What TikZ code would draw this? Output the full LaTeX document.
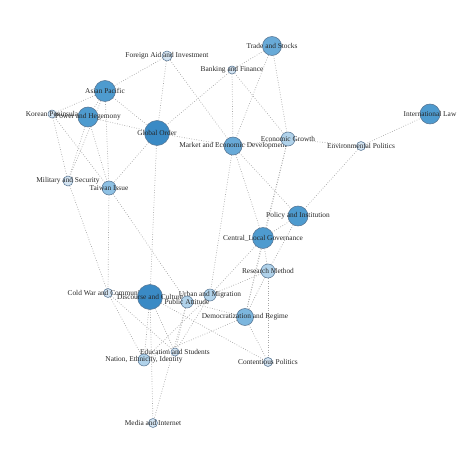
\documentclass[tikz,border=0pt]{standalone}
\usepackage{fontspec}
\setmainfont{Liberation Serif}
\usetikzlibrary{backgrounds}

\definecolor{cDark}{RGB}{58,138,197}
\definecolor{cMid}{RGB}{78,155,207}
\definecolor{cMidL}{RGB}{104,170,216}
\definecolor{cDem}{RGB}{124,182,222}
\definecolor{cTai}{RGB}{142,193,228}
\definecolor{cLight}{RGB}{176,210,234}
\definecolor{cPale}{RGB}{212,228,242}
\definecolor{cRim}{RGB}{85,115,145}

\begin{document}
\begin{tikzpicture}[
        x=0.2mm, y=-0.2mm,
        nd/.style={circle, draw=cRim, line width=0.3pt, inner sep=0pt, minimum size=#1*0.2mm},
        lbl/.style={font=\fontsize{4.2}{5}\selectfont, inner sep=0pt, text=black!85},
        link/.style={densely dotted, line width=0.4pt, gray!70}
    ]
        \useasboundingbox (0,0) rectangle (474,473);

        % --- upper part ---
        \node[nd=10, fill=cPale, label={[lbl]center:Foreign Aid and Investment}] (fa) at (167,56) {};
        \node[nd=19, fill=cMidL, label={[lbl]center:Trade and Stocks}] (ts) at (272,46) {};
        \node[nd=8, fill=cPale, label={[lbl]center:Banking and Finance}] (bf) at (232,70) {};
        \node[nd=21, fill=cMid, label={[lbl]center:Asian Pacific}] (ap) at (105,91) {};
        \node[nd=8, fill=cPale, label={[lbl]center:Korean Peninsula}] (kp) at (52,114) {};
        \node[nd=20, fill=cMid, label={[lbl]center:Power and Hegemony}] (ph) at (88,117) {};
        \node[nd=25, fill=cDark, label={[lbl]center:Global Order}] (go) at (157,133) {};
        \node[nd=18, fill=cMidL, label={[lbl]center:Market and Economic Development}] (med) at (233,146) {};
        \node[nd=14, fill=cLight, label={[lbl]center:Economic Growth}] (eg) at (288,139) {};
        \node[nd=9, fill=cPale, label={[lbl]center:Environmental Politics}] (ep) at (361,146) {};
        \node[nd=20, fill=cMid, label={[lbl]center:International Law}] (il) at (430,114) {};
        \node[nd=10, fill=cPale, label={[lbl]center:Military and Security}] (ms) at (68,181) {};
        \node[nd=14, fill=cTai, label={[lbl]center:Taiwan Issue}] (ti) at (109,188) {};

        % --- middle part ---
        \node[nd=20, fill=cMid, label={[lbl]center:Policy and Institution}] (pi) at (298,216) {};
        \node[nd=21, fill=cMid, label={[lbl]center:Central\_Local Governance}] (clg) at (263,238) {};
        \node[nd=14, fill=cLight, label={[lbl]center:Research Method}] (rm) at (268,271) {};
        \node[nd=9, fill=cPale, label={[lbl]center:Cold War and Communism}] (cw) at (108,293) {};
        \node[nd=25, fill=cDark, label={[lbl]center:Discourse and Culture}] (dc) at (150,297) {};
        \node[nd=12, fill=cLight, label={[lbl]center:Urban and Migration}] (um) at (210,295) {};
        \node[nd=12, fill=cLight, label={[lbl]center:Public Attitude}] (pa) at (187,302) {};
        \node[nd=17, fill=cDem, label={[lbl]center:Democratization and Regime}] (dr) at (245,317) {};

        % --- lower part ---
        \node[nd=8, fill=cPale, label={[lbl]center:Education and Students}] (es) at (175,352) {};
        \node[nd=12, fill=cLight, label={[lbl]center:{Nation, Ethnicity, Identity}}] (nei) at (144,360) {};
        \node[nd=9, fill=cPale, label={[lbl]center:Contentious Politics}] (cp) at (268,362) {};
        \node[nd=9, fill=cPale, label={[lbl]center:Media and Internet}] (mi) at (153,423) {};

        % links behind the nodes
        \begin{pgfonlayer}{background}
            \foreach \a/\b in {fa/ap, fa/go, fa/med, ts/bf, ts/med, ts/eg, bf/go, bf/med, bf/eg,
                ap/kp, ap/ph, ap/go, ap/ti, ap/ms, kp/ph, kp/ms, kp/ti, ph/go, ph/ti, ph/ms,
                go/med, go/ti, go/dc, ti/cw, ti/pa, ms/cw, med/eg, med/pi, med/clg, med/um,
                eg/ep, eg/clg, eg/dr, ep/il, ep/pi, pi/clg, pi/rm, clg/rm, clg/um, clg/dr,
                rm/um, rm/dr, rm/cp, dr/cp, dr/pa, dr/nei, cw/nei, cw/es, dc/cp, dc/es,
                dc/nei, dc/mi, pa/es, pa/mi, um/es, um/nei}
                \draw[link] (\a) -- (\b);
        \end{pgfonlayer}
    \end{tikzpicture}
\end{document}
